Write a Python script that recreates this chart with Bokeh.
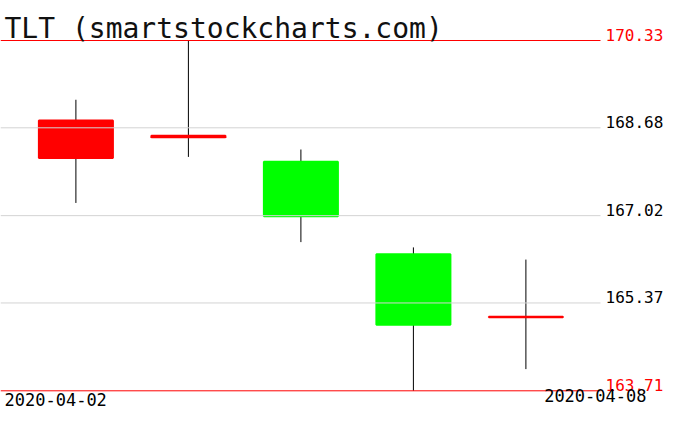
import numpy as np
from bokeh.plotting import figure
from bokeh.models import Range1d, ColumnDataSource
from bokeh.core.properties import value
from bokeh.embed import file_html
from bokeh.resources import INLINE

# ---- data ----
dates = ["2020-04-02", "2020-04-03", "2020-04-06", "2020-04-07", "2020-04-08"]
opens = [168.82, 168.53, 167.01, 164.96, 165.11]
highs = [169.21, 170.33, 168.27, 166.42, 166.19]
lows = [167.26, 168.13, 166.52, 163.71, 164.12]
closes = [168.11, 168.50, 168.04, 166.29, 165.10]
tick_values = [170.33, 168.68, 167.02, 165.37, 163.71]
tick_labels = ["170.33", "168.68", "167.02", "165.37", "163.71"]
title_text = "TLT (smartstockcharts.com)"

# ---- layout ----
W, H = 668, 423
x0_px, step_px = 75.4, 112.5
top_px, bottom_px = 40.0, 390.3
grid_end_px = 600.0
FONT = "DejaVu Sans Mono"

hi, lo = max(highs), min(lows)
k = (bottom_px - top_px) / (hi - lo)
x_start = -x0_px / step_px
x_end = (W - x0_px) / step_px
grid_end = (grid_end_px - x0_px) / step_px

p = figure(width=W, height=H,
           x_range=Range1d(x_start, x_end),
           y_range=Range1d(lo - (H - bottom_px) / k, hi + top_px / k),
           toolbar_location=None, output_backend="svg",
           x_axis_location=None, y_axis_location=None,
           min_border=0, margin=0)
p.outline_line_color = None
p.xgrid.visible = False
p.ygrid.visible = False
p.background_fill_color = "white"
p.border_fill_color = "white"

idx = list(range(len(dates)))
colors = ["#ff0000" if c < o else "#00ff00" for o, c in zip(opens, closes)]
src = ColumnDataSource(dict(
    x=idx, high=highs, low=lows,
    top=[max(o, c) for o, c in zip(opens, closes)],
    bottom=[min(o, c) for o, c in zip(opens, closes)],
    color=colors))

# wicks
p.segment(x0="x", y0="low", x1="x", y1="high", source=src,
          line_color="black", line_width=1)
# bodies
p.vbar(x="x", width=0.658, top="top", bottom="bottom", source=src,
       fill_color="color", line_color="color", line_width=2)

# horizontal lines
line_colors = ["#ff0000" if v in (hi, lo) else "#d3d3d3" for v in tick_values]
gsrc = ColumnDataSource(dict(
    y=tick_values, x0=[x_start] * len(tick_values), x1=[grid_end] * len(tick_values),
    color=line_colors, label=tick_labels,
    tcolor=["#ff0000" if v in (hi, lo) else "black" for v in tick_values]))
p.segment(x0="x0", y0="y", x1="x1", y1="y", source=gsrc,
          line_color="color", line_width=1)

# price labels
p.text(x="x1", y="y", text="label", source=gsrc, x_offset=5, y_offset=-6,
       text_color="tcolor", text_font=value(FONT), text_font_size="16px",
       text_baseline="alphabetic", text_align="left")

# title
p.text(x=[x_start], y=[hi], text=[title_text], x_offset=4, y_offset=-12,
       text_color="#111111", text_font=value(FONT), text_font_size="28px",
       text_baseline="alphabetic", text_align="left")

# date labels
p.text(x=[x_start], y=[lo], text=[dates[0]], x_offset=4, y_offset=9,
       text_color="black", text_font=value(FONT), text_font_size="17px",
       text_baseline="alphabetic", text_align="left")
p.text(x=[x_end], y=[lo], text=[dates[-1]], x_offset=-22, y_offset=5,
       text_color="black", text_font=value(FONT), text_font_size="17px",
       text_baseline="alphabetic", text_align="right")

open("out.html", "w").write(file_html(p, INLINE))
